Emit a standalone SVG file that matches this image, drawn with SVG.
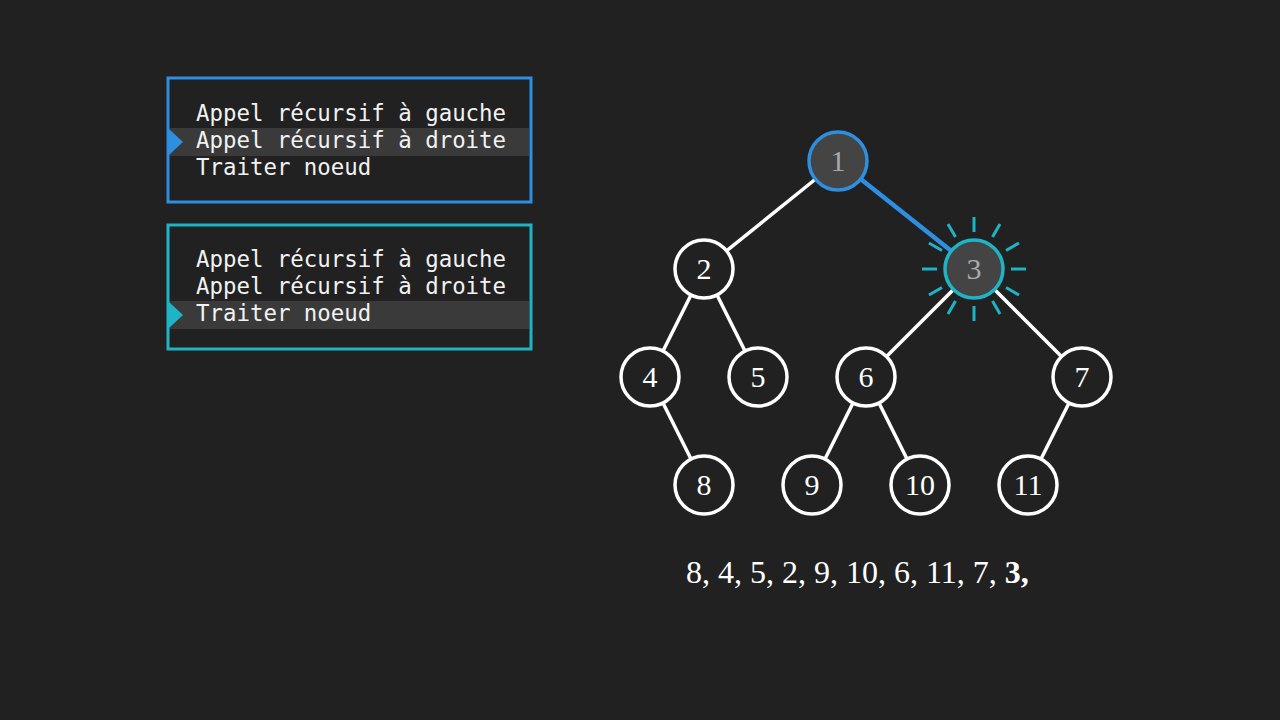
<svg xmlns="http://www.w3.org/2000/svg" width="1280" height="720" viewBox="0 0 1280 720">
<style>
.code{font-family:"DejaVu Sans Mono","Liberation Mono",monospace;font-size:22.4px;fill:#f2f2f2}
.n circle{fill:#212121;stroke:#fff;stroke-width:3.5}
.n text{font-family:"Liberation Serif",serif;font-size:30px;fill:#fff;text-anchor:middle}
.e line{stroke:#fff;stroke-width:3.5}
.ray{stroke:#1fb3c6;stroke-width:3}
</style>
<rect width="1280" height="720" fill="#212121"/>
<g id="box1">
<rect x="168" y="78" width="363" height="124" fill="none" stroke="#2e8ee0" stroke-width="3"/>
<rect x="170" y="128" width="359" height="28" fill="#3a3a3a"/>
<polygon points="169,129 183,142 169,155" fill="#2e8ee0"/>
<text class="code" x="196" y="121">Appel récursif à gauche</text>
<text class="code" x="196" y="148">Appel récursif à droite</text>
<text class="code" x="196" y="175">Traiter noeud</text>
</g>
<g id="box2">
<rect x="168" y="225" width="363" height="124" fill="none" stroke="#1fb3c6" stroke-width="3"/>
<rect x="170" y="301" width="359" height="28" fill="#3a3a3a"/>
<polygon points="169,302 183,315 169,328" fill="#1fb3c6"/>
<text class="code" x="196" y="267">Appel récursif à gauche</text>
<text class="code" x="196" y="294">Appel récursif à droite</text>
<text class="code" x="196" y="321">Traiter noeud</text>
</g>
<g id="edges" class="e">
<line x1="838" y1="161" x2="704" y2="269"/>
<line x1="838" y1="161" x2="974" y2="269" style="stroke:#2e8ee0;stroke-width:4.5"/>
<line x1="704" y1="269" x2="650" y2="377"/>
<line x1="704" y1="269" x2="758" y2="377"/>
<line x1="974" y1="269" x2="866" y2="377"/>
<line x1="974" y1="269" x2="1082" y2="377"/>
<line x1="650" y1="377" x2="704" y2="485"/>
<line x1="866" y1="377" x2="812" y2="485"/>
<line x1="866" y1="377" x2="920" y2="485"/>
<line x1="1082" y1="377" x2="1028" y2="485"/>
</g>
<g id="rays" transform="translate(974,269)">
<g class="ray">
<line x1="0" y1="-37" x2="0" y2="-52"/>
<line x1="0" y1="-37" x2="0" y2="-52" transform="rotate(30)"/>
<line x1="0" y1="-37" x2="0" y2="-52" transform="rotate(60)"/>
<line x1="0" y1="-37" x2="0" y2="-52" transform="rotate(90)"/>
<line x1="0" y1="-37" x2="0" y2="-52" transform="rotate(120)"/>
<line x1="0" y1="-37" x2="0" y2="-52" transform="rotate(150)"/>
<line x1="0" y1="-37" x2="0" y2="-52" transform="rotate(180)"/>
<line x1="0" y1="-37" x2="0" y2="-52" transform="rotate(210)"/>
<line x1="0" y1="-37" x2="0" y2="-52" transform="rotate(240)"/>
<line x1="0" y1="-37" x2="0" y2="-52" transform="rotate(270)"/>
<line x1="0" y1="-37" x2="0" y2="-52" transform="rotate(300)"/>
<line x1="0" y1="-37" x2="0" y2="-52" transform="rotate(330)"/>
</g>
</g>
<g id="n1" class="n"><circle cx="838" cy="161" r="29" style="fill:#444;stroke:#2e8ee0"/><text x="838" y="171" style="fill:#aaa">1</text></g>
<g id="n2" class="n"><circle cx="704" cy="269" r="29"/><text x="704" y="279">2</text></g>
<g id="n3" class="n"><circle cx="974" cy="269" r="29" style="fill:#444;stroke:#1fb3c6"/><text x="974" y="279" style="fill:#aaa">3</text></g>
<g id="n4" class="n"><circle cx="650" cy="377" r="29"/><text x="650" y="387">4</text></g>
<g id="n5" class="n"><circle cx="758" cy="377" r="29"/><text x="758" y="387">5</text></g>
<g id="n6" class="n"><circle cx="866" cy="377" r="29"/><text x="866" y="387">6</text></g>
<g id="n7" class="n"><circle cx="1082" cy="377" r="29"/><text x="1082" y="387">7</text></g>
<g id="n8" class="n"><circle cx="704" cy="485" r="29"/><text x="704" y="495">8</text></g>
<g id="n9" class="n"><circle cx="812" cy="485" r="29"/><text x="812" y="495">9</text></g>
<g id="n10" class="n"><circle cx="920" cy="485" r="29"/><text x="920" y="495">10</text></g>
<g id="n11" class="n"><circle cx="1028" cy="485" r="29"/><text x="1028" y="495">11</text></g>
<text x="686" y="583" style="font-family:'Liberation Serif',serif;font-size:32px;fill:#fff">8, 4, 5, 2, 9, 10, 6, 11, 7, <tspan font-weight="bold">3,</tspan></text>
</svg>
